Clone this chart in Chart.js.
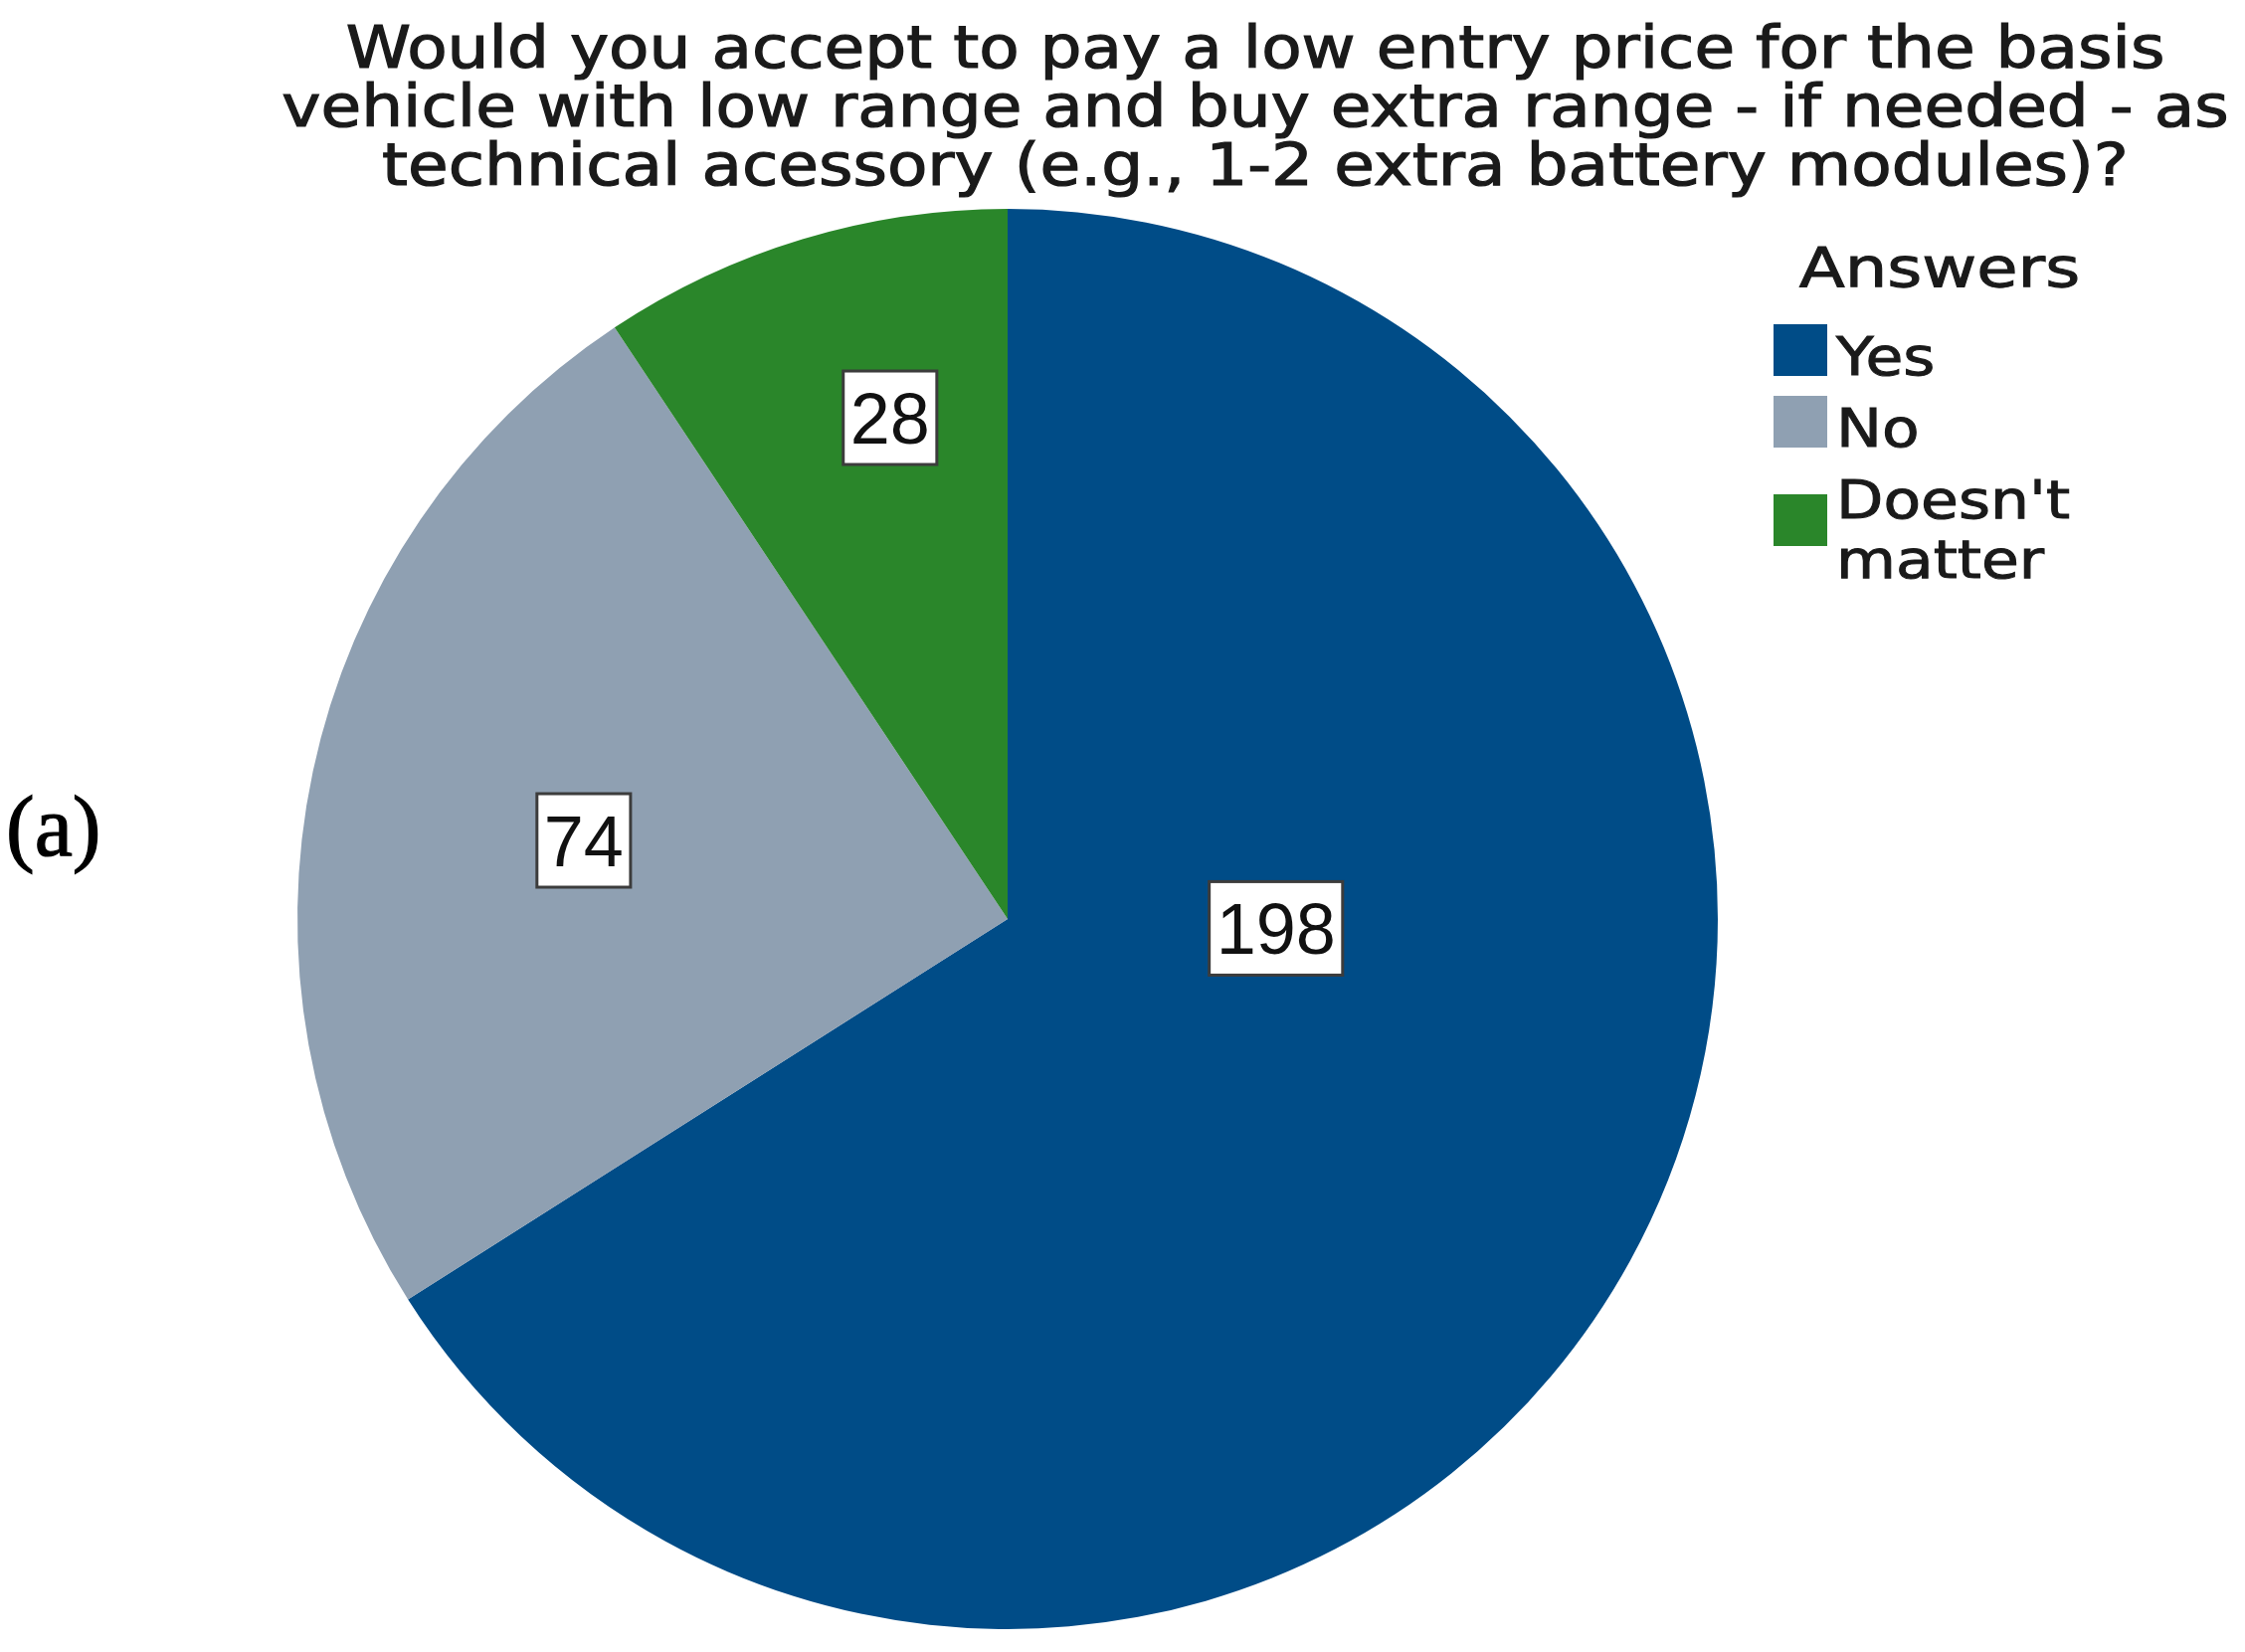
<!DOCTYPE html>
<html>
<head>
<meta charset="utf-8">
<script src="https://cdn.jsdelivr.net/npm/chart.js@4/dist/chart.umd.min.js"></script>
<style>
  html, body { margin: 0; padding: 0; background: #ffffff; }
  #wrap { width: 2257px; height: 1661px; position: relative; }
</style>
</head>
<body>
<div id="wrap"><canvas id="c" width="2257" height="1661"></canvas></div>
<script>
// ---- data ----
const categories = ["Yes", "No", "Doesn't matter"];
const legendLines = [["Yes"], ["No"], ["Doesn't", "matter"]];
const counts = [198, 74, 28];
const titleLines = [
  "Would you accept to pay a low entry price for the basis",
  "vehicle with low range and buy extra range - if needed - as",
  "technical acessory (e.g., 1-2 extra battery modules)?"
];
const legendTitle = "Answers";
const panelTag = "(a)";

// ---- style ----
const colors = ["#004c87", "#8fa0b2", "#2a862a"];
const labelAngleOffsetDeg = [-26.8, -1.5, 3.6];
const labelRadiusFrac = [0.378, 0.607, 0.725];
const SANS = "'DejaVu Sans', sans-serif";

function stretchText(ctx, text, x, y, font, align, sx, thick) {
  ctx.save();
  ctx.font = font;
  ctx.textAlign = align;
  ctx.textBaseline = 'alphabetic';
  ctx.translate(x, y);
  ctx.scale(sx, 1);
  ctx.fillText(text, 0, 0);
  if (thick) {
    ctx.lineWidth = thick;
    ctx.strokeStyle = ctx.fillStyle;
    ctx.strokeText(text, 0, 0);
  }
  ctx.restore();
}

const decor = {
  id: 'decor',
  afterDraw(chart) {
    const ctx = chart.ctx;
    const area = chart.chartArea;
    ctx.save();
    ctx.fillStyle = '#1a1a1a';
    // title
    const tFont = "58px " + SANS;
    titleLines.forEach((t, i) => {
      stretchText(ctx, t, 1262, 68 + i * 59, tFont, 'center', 1.14, 1.2);
    });
    // panel tag
    ctx.fillStyle = '#000';
    stretchText(ctx, panelTag, 6, 860, "86px 'Liberation Serif', serif", 'left', 1.0, 1.2);

    // legend
    ctx.fillStyle = '#1a1a1a';
    const lx = area.right + 55;
    stretchText(ctx, legendTitle, lx + 167, 288, "56px " + SANS, 'center', 1.2, 1);
    const lf = "54px " + SANS;
    let baseY = 377;
    legendLines.forEach((lines, i) => {
      const nL = lines.length;
      const sy = baseY - 51 + (nL - 1) * 30;
      ctx.fillStyle = colors[i];
      ctx.fillRect(lx, sy + (nL > 1 ? -3 : 0), 54, 52);
      ctx.fillStyle = '#1a1a1a';
      lines.forEach((ln, j) => {
        stretchText(ctx, ln, lx + 63, baseY + j * 60, lf, 'left', 1.14, 1);
      });
      baseY += (nL - 1) * 60 + 72;
    });

    // value labels
    const meta = chart.getDatasetMeta(0);
    meta.data.forEach((arc, i) => {
      const p = arc.getProps(['x', 'y', 'startAngle', 'endAngle', 'outerRadius'], true);
      const mid = (p.startAngle + p.endAngle) / 2 + labelAngleOffsetDeg[i] * Math.PI / 180;
      const r = p.outerRadius * labelRadiusFrac[i];
      const cx = p.x + Math.cos(mid) * r;
      const cy = p.y + Math.sin(mid) * r;
      const txt = String(counts[i]);
      ctx.font = "72px 'Liberation Sans', Arial, sans-serif";
      const w = ctx.measureText(txt).width + 14;
      const h = 94;
      ctx.fillStyle = '#ffffff';
      ctx.fillRect(cx - w / 2, cy - h / 2, w, h);
      ctx.lineWidth = 3;
      ctx.strokeStyle = '#3c3c3c';
      ctx.strokeRect(cx - w / 2, cy - h / 2, w, h);
      ctx.fillStyle = '#111';
      ctx.textAlign = 'center';
      ctx.textBaseline = 'alphabetic';
      ctx.fillText(txt, cx, cy + 26);
    });
    ctx.restore();
  }
};

new Chart(document.getElementById('c'), {
  type: 'pie',
  data: {
    labels: categories,
    datasets: [{
      data: counts,
      backgroundColor: colors,
      borderWidth: 0
    }]
  },
  options: {
    responsive: false,
    animation: false,
    layout: { padding: { left: 298, top: 210, right: 529, bottom: 23 } },
    plugins: {
      legend: { display: false },
      tooltip: { enabled: false },
      title: { display: false }
    }
  },
  plugins: [decor]
});
</script>
</body>
</html>
